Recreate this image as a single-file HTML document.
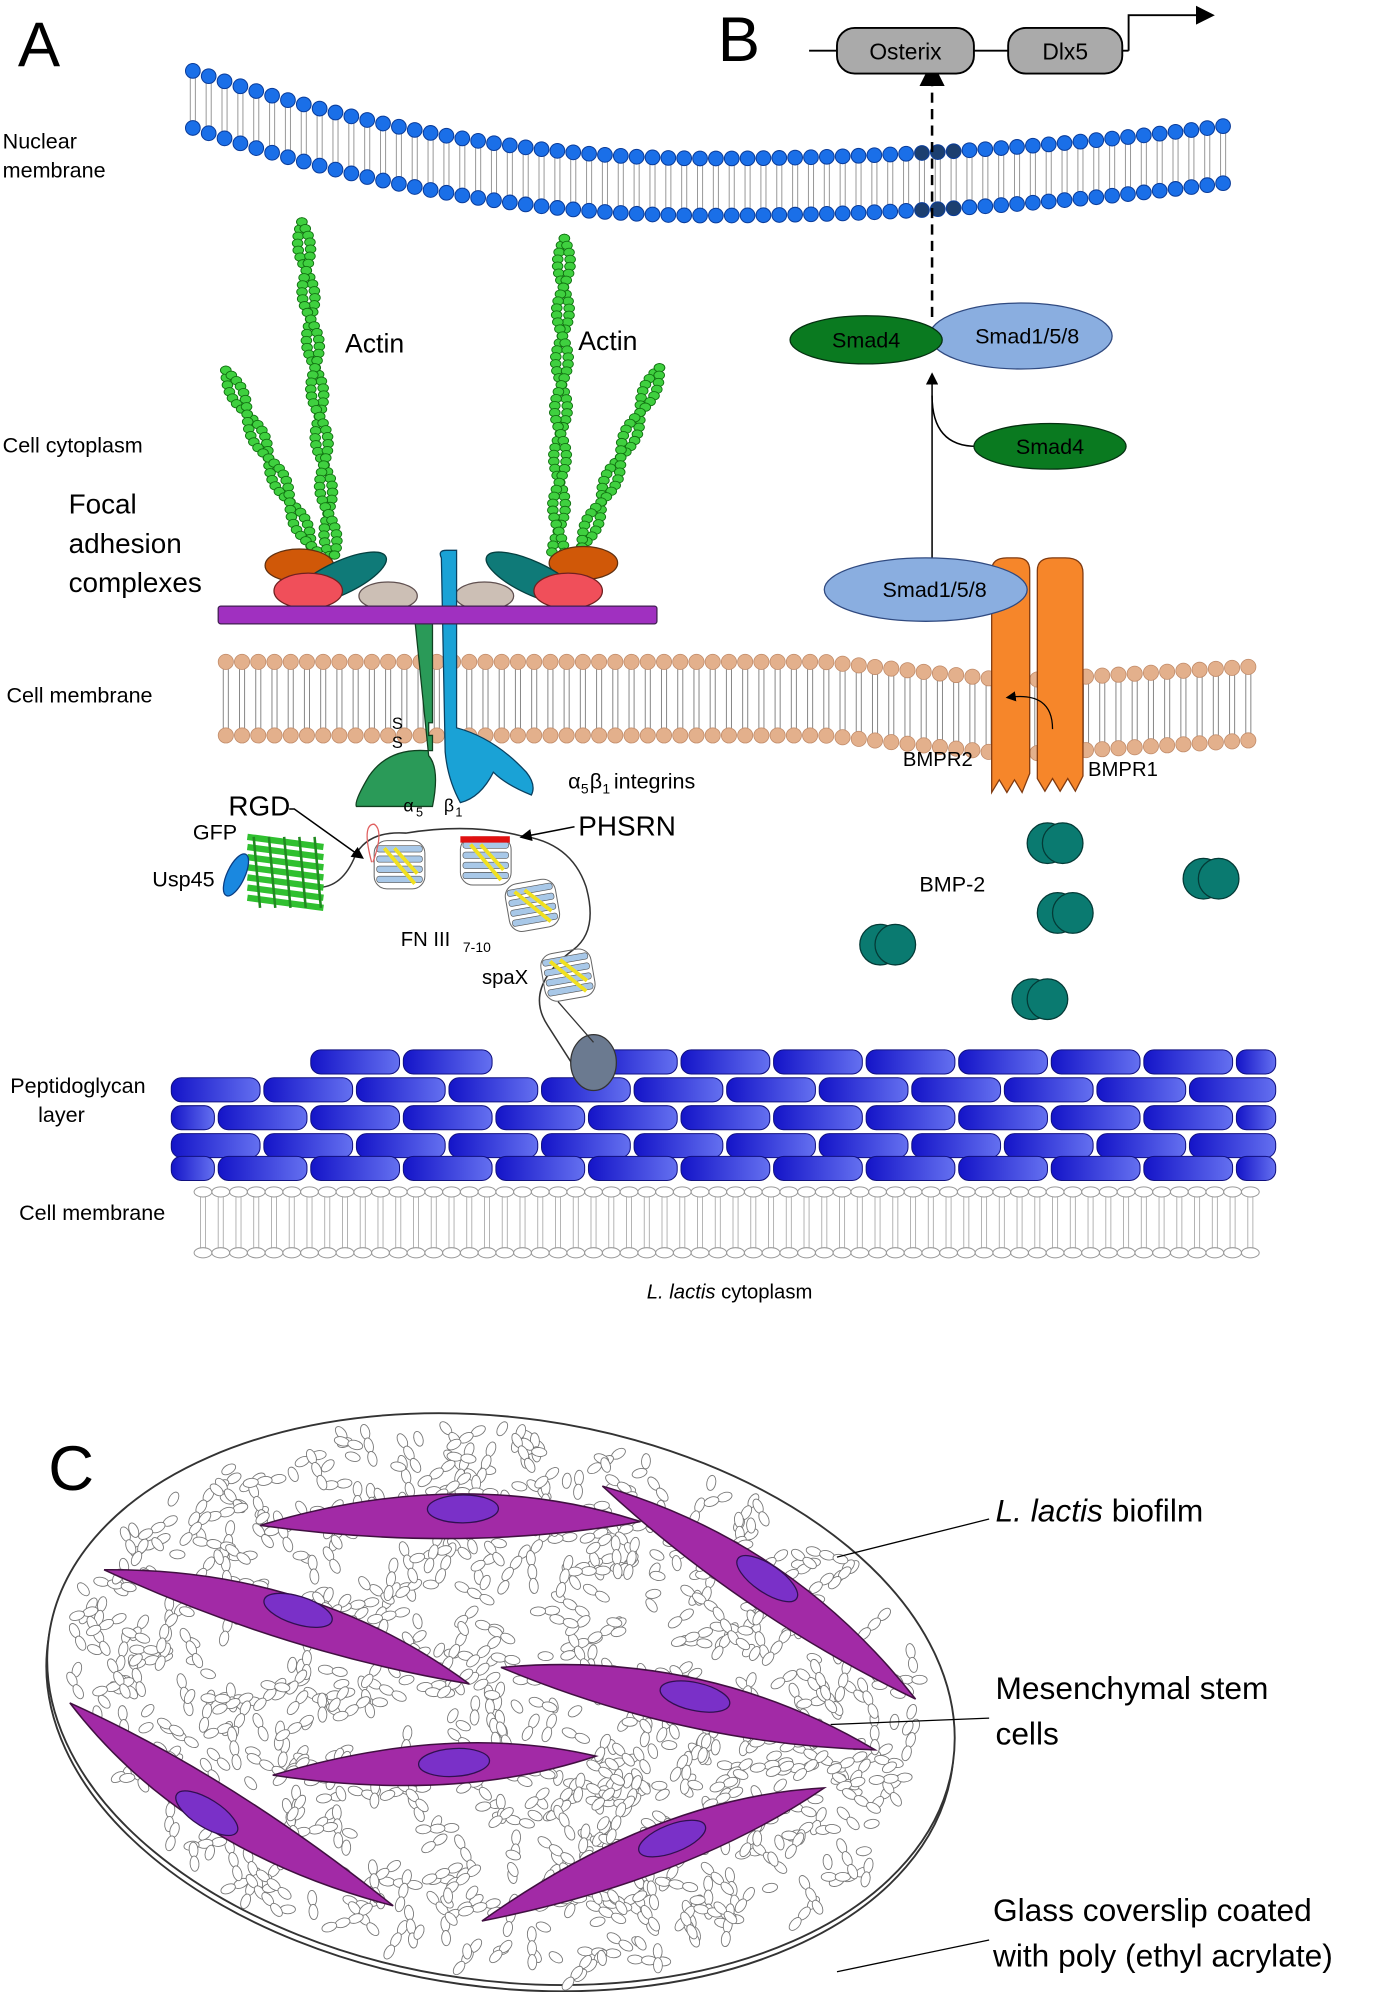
<!DOCTYPE html>
<html><head><meta charset="utf-8">
<style>
html,body{margin:0;padding:0;background:#fff;}
svg{display:block;font-family:"Liberation Sans",sans-serif;}
</style></head>
<body>
<svg id="s" width="1395" height="1992" viewBox="0 0 1100 1571" xmlns="http://www.w3.org/2000/svg">
<defs>
<linearGradient id="pg" x1="0" x2="1" y1="0" y2="0"><stop offset="0" stop-color="#1414c8"/><stop offset="1" stop-color="#6470f0"/></linearGradient>
<marker id="ah" markerWidth="10" markerHeight="10" refX="8" refY="5" orient="auto"><path d="M0,0 L10,5 L0,10 z" fill="#000"/></marker>
<marker id="ahs" markerWidth="8" markerHeight="8" refX="6" refY="4" orient="auto"><path d="M0,0 L8,4 L0,8 z" fill="#000"/></marker>
</defs>
<g id="bg"></g>
<g id="fg"></g>

<!-- Panel labels -->
<text x="14" y="52" font-size="50">A</text>
<text x="566" y="48" font-size="50">B</text>
<text x="38" y="1175" font-size="50">C</text>

<!-- Gene boxes -->
<line x1="638" y1="40" x2="890" y2="40" stroke="#000" stroke-width="1.5"/>
<polyline points="890,40 890,12 955,12" fill="none" stroke="#000" stroke-width="1.5" marker-end="url(#ah)"/>
<rect x="660" y="22" width="108" height="36" rx="14" fill="#aaa" stroke="#000" stroke-width="1.5"/>
<text x="714" y="47" font-size="18" text-anchor="middle">Osterix</text>
<rect x="795" y="22" width="90" height="36" rx="14" fill="#aaa" stroke="#000" stroke-width="1.5"/>
<text x="840" y="47" font-size="18" text-anchor="middle">Dlx5</text>

<text x="2" y="117" font-size="17">Nuclear</text>
<text x="2" y="140" font-size="17">membrane</text>
<text x="2" y="357" font-size="17">Cell cytoplasm</text>
<text x="54" y="405" font-size="22">Focal</text>
<text x="54" y="436" font-size="22">adhesion</text>
<text x="54" y="467" font-size="22">complexes</text>
<text x="5" y="554" font-size="17">Cell membrane</text>
<text x="272" y="278" font-size="21">Actin</text>
<text x="456" y="276" font-size="21">Actin</text>

<!-- Purple bar -->
<rect x="172" y="478" width="346" height="14" rx="2" fill="#a030c0" stroke="#402050"/>
</svg>

<script>
(function(){
var NS="http://www.w3.org/2000/svg";
var bg=document.getElementById("bg"), fg=document.getElementById("fg");
function el(p,t,a){var e=document.createElementNS(NS,t);for(var k in a)e.setAttribute(k,a[k]);p.appendChild(e);return e;}
function tx(p,x,y,s,str,o){var e=el(p,"text",Object.assign({x:x,y:y,"font-size":s},o||{}));e.textContent=str;return e;}
var seed=7;function rnd(){seed=(seed*16807)%2147483647;return seed/2147483647;}

// Nuclear membrane
function ntop(x){return x<560?125-4.15e-4*(x-560)*(x-560):125-1.56e-4*(x-560)*(x-560);}
for(var x=152;x<=975;x+=12.5){
  var t=ntop(x), b=t+45;
  el(bg,"line",{x1:x-2,y1:t,x2:x-2,y2:b,stroke:"#999","stroke-width":0.8});
  el(bg,"line",{x1:x+2,y1:t,x2:x+2,y2:b,stroke:"#999","stroke-width":0.8});
  var dark=Math.abs(x-735)<20;
  var c=dark?"#1c3f70":"#1a6fe8";
  el(bg,"circle",{cx:x,cy:t,r:5.8,fill:c,stroke:"#0a3c9a","stroke-width":0.8});
  el(bg,"circle",{cx:x,cy:b,r:5.8,fill:c,stroke:"#0a3c9a","stroke-width":0.8});
}
// Cell membrane tan
function ctop(x){if(x<650)return 522;if(x<800)return 522+(x-650)*0.1;return 537-(x-800)*0.06;}
for(var x=178;x<=990;x+=12.8){
  var t=ctop(x),b=t+58;
  el(bg,"line",{x1:x-2,y1:t,x2:x-2,y2:b,stroke:"#888","stroke-width":0.8});
  el(bg,"line",{x1:x+2,y1:t,x2:x+2,y2:b,stroke:"#888","stroke-width":0.8});
  el(bg,"circle",{cx:x,cy:t,r:6,fill:"#e3b08c",stroke:"#c08a68","stroke-width":0.6});
  el(bg,"circle",{cx:x,cy:b,r:6,fill:"#e3b08c",stroke:"#c08a68","stroke-width":0.6});
}
// L. lactis membrane
for(var x=160;x<=995;x+=14){
  el(bg,"line",{x1:x-2,y1:942,x2:x-2,y2:986,stroke:"#aaa","stroke-width":0.7});
  el(bg,"line",{x1:x+2,y1:942,x2:x+2,y2:986,stroke:"#aaa","stroke-width":0.7});
  el(bg,"ellipse",{cx:x,cy:940,rx:7,ry:4,fill:"#fff",stroke:"#999","stroke-width":0.8});
  el(bg,"ellipse",{cx:x,cy:988,rx:7,ry:4,fill:"#fff",stroke:"#999","stroke-width":0.8});
}
// Peptidoglycan
var rows=[[828,175,1000],[852,135,1008],[876,135,1008],[900,135,1008],[912,135,1008]];
var ys=[830,852,874,896,914];
for(var r=0;r<5;r++){
  var off=(r%2)?0:36;
  for(var x=135-off;x<1005;x+=73){
    var x0=Math.max(x,135), x1=Math.min(x+70,1006);
    if(r==0&&(x0<175||(x0>390&&x0<425)))continue;
    if(x1-x0<15)continue;
    el(bg,"rect",{x:x0,y:ys[r]-2,width:x1-x0,height:19,rx:8,fill:"url(#pg)",stroke:"#101080","stroke-width":0.8});
  }
}
// Actin chains
function actin(x0,y0,x1,y1){
  var n=Math.hypot(x1-x0,y1-y0)/5.5, dx=(x1-x0), dy=(y1-y0), L=Math.hypot(dx,dy), px=-dy/L, py=dx/L;
  for(var s=0;s<2;s++)for(var i=0;i<=n;i++){
    var f=i/n, w=5*Math.sin(i*0.45+s*Math.PI);
    el(fg,"ellipse",{cx:x0+dx*f+px*w,cy:y0+dy*f+py*w,rx:4.2,ry:3.3,fill:"#3fd03f",stroke:"#107010","stroke-width":0.7});
  }
}
actin(178,292,250,440);actin(238,175,262,440);actin(445,188,440,440);actin(520,290,455,440);

// Focal adhesion blobs
el(fg,"ellipse",{cx:236,cy:446,rx:27,ry:13,fill:"#d05808",stroke:"#603010"});
el(fg,"ellipse",{cx:268,cy:456,rx:40,ry:13,fill:"#0f7a78",stroke:"#054040",transform:"rotate(-25 268 456)"});
el(fg,"ellipse",{cx:243,cy:466,rx:27,ry:14,fill:"#f04f5a",stroke:"#702020"});
el(fg,"ellipse",{cx:306,cy:470,rx:23,ry:11,fill:"#ccbfb5",stroke:"#605050"});
el(fg,"ellipse",{cx:460,cy:444,rx:27,ry:13,fill:"#d05808",stroke:"#603010"});
el(fg,"ellipse",{cx:420,cy:456,rx:40,ry:13,fill:"#0f7a78",stroke:"#054040",transform:"rotate(25 420 456)"});
el(fg,"ellipse",{cx:448,cy:466,rx:27,ry:14,fill:"#f04f5a",stroke:"#702020"});
el(fg,"ellipse",{cx:382,cy:470,rx:23,ry:11,fill:"#ccbfb5",stroke:"#605050"});

// Integrins
el(fg,"path",{d:"M326,478 h15 v92 h-3 v10 h3 v12 l-5 0 q-30,-2 -45,20 q-12,20 -10,24 h60 q6,-30 -3,-40 z",fill:"#2a9a58",stroke:"#104020"});
el(fg,"path",{d:"M348,440 q-3,-6 4,-6 h8 v140 q30,8 55,35 q8,10 4,18 q-20,-8 -30,-18 q-10,20 -26,24 q-10,-18 -12,-40 z",fill:"#1aa2d6",stroke:"#0a4060"});
tx(fg,309,575,13,"S");tx(fg,309,590,13,"S");
tx(fg,318,640,14,"α",{});tx(fg,328,644,10,"5");
tx(fg,350,640,14,"β");tx(fg,359,644,10,"1");
tx(fg,448,622,17,"α");tx(fg,458,626,11,"5");tx(fg,465,622,17,"β");tx(fg,475,626,11,"1");tx(fg,484,622,17," integrins");

// Fibronectin chain
el(fg,"path",{d:"M250,700 q20,0 30,-25 q10,-20 40,-18 q50,-8 90,2 q40,5 52,40 q10,35 -10,50 q-40,30 -20,60 L455,845",fill:"none",stroke:"#333","stroke-width":1.2});
function fn(cx,cy,ang){var g=el(fg,"g",{transform:"rotate("+ang+" "+cx+" "+cy+")"});
  for(var i=0;i<4;i++){el(g,"rect",{x:cx-18,y:cy-16+i*8,width:36,height:5,rx:2,fill:"#a8c8e8",stroke:"#555","stroke-width":0.5});}
  el(g,"line",{x1:cx-12,y1:cy-14,x2:cx+12,y2:cy+14,stroke:"#f0e020","stroke-width":3});
  el(g,"line",{x1:cx-4,y1:cy-14,x2:cx+14,y2:cy+6,stroke:"#f0e020","stroke-width":3});
  el(g,"rect",{x:cx-20,y:cy-20,width:40,height:38,rx:10,fill:"none",stroke:"#666","stroke-width":0.8});}
fn(315,683,0);fn(383,680,0);fn(420,715,-10);fn(448,770,-10);
el(fg,"line",{x1:363,y1:662,x2:402,y2:662,stroke:"#e01010","stroke-width":5});
el(fg,"path",{d:"M293,680 q-8,-30 2,-30 q8,5 -1,30",fill:"none",stroke:"#e06060"});
// GFP
for(var i=0;i<7;i++)el(fg,"line",{x1:195,y1:660+i*8,x2:255,y2:668+i*8,stroke:"#30c030","stroke-width":5});
for(var i=0;i<5;i++)el(fg,"line",{x1:200+i*12,y1:660,x2:205+i*12,y2:716,stroke:"#208a20","stroke-width":2});
el(fg,"ellipse",{cx:186,cy:690,rx:7,ry:18,fill:"#1a88e0",stroke:"#0a3c80",transform:"rotate(25 186 690)"});
el(fg,"ellipse",{cx:468,cy:838,rx:18,ry:22,fill:"#6b7a90",stroke:"#333"});
el(fg,"line",{x1:440,y1:790,x2:468,y2:822,stroke:"#333"});

tx(fg,152,662,17,"GFP");tx(fg,120,699,17,"Usp45");
tx(fg,152,668,0,"");
tx(fg,316,746,16,"FN III");tx(fg,365,751,11,"7-10");
tx(fg,380,776,16,"spaX");
tx(fg,180,643,22,"RGD");
el(fg,"polyline",{points:"228,638 232,638 285,676",fill:"none",stroke:"#000","stroke-width":1.2,"marker-end":"url(#ahs)"});
tx(fg,456,659,22,"PHSRN");
el(fg,"line",{x1:453,y1:652,x2:412,y2:660,stroke:"#000","stroke-width":1.2,"marker-end":"url(#ahs)"});

tx(fg,8,862,17,"Peptidoglycan");tx(fg,30,885,17,"layer");
tx(fg,15,962,17,"Cell membrane");
var lt=tx(fg,510,1024,16,"");var ts=el(lt,"tspan",{"font-style":"italic"});ts.textContent="L. lactis";var t2=el(lt,"tspan",{});t2.textContent=" cytoplasm";

// B pathway
el(fg,"line",{x1:735,y1:250,x2:735,y2:52,stroke:"#000","stroke-width":2,"stroke-dasharray":"8,5","marker-end":"url(#ah)"});
el(fg,"line",{x1:735,y1:445,x2:735,y2:296,stroke:"#000","stroke-width":1.2,"marker-end":"url(#ahs)"});
el(fg,"path",{d:"M770,352 q-35,0 -35,-40",fill:"none",stroke:"#000","stroke-width":1.2});
el(fg,"ellipse",{cx:805,cy:265,rx:72,ry:26,fill:"#8aaee0",stroke:"#304a80"});
el(fg,"ellipse",{cx:683,cy:268,rx:60,ry:19,fill:"#0a7a20",stroke:"#053010"});
tx(fg,683,274,17,"Smad4",{"text-anchor":"middle"});
tx(fg,810,271,17,"Smad1/5/8",{"text-anchor":"middle"});
el(fg,"ellipse",{cx:828,cy:352,rx:60,ry:18,fill:"#0a7a20",stroke:"#053010"});
tx(fg,828,358,17,"Smad4",{"text-anchor":"middle"});
// BMPR
el(fg,"path",{d:"M782,450 q0,-10 12,-10 h8 q10,0 10,10 v160 l-6,15 -6,-10 -6,10 -6,-10 -6,10 z",fill:"#f6862a",stroke:"#803a10"});
el(fg,"path",{d:"M818,450 q0,-10 12,-10 h10 q14,0 14,12 v160 l-6,12 -6,-10 -6,10 -6,-10 -6,10 -6,-10 z",fill:"#f6862a",stroke:"#803a10"});
el(fg,"path",{d:"M830,575 q0,-30 -35,-25",fill:"none",stroke:"#000","marker-end":"url(#ahs)"});
el(fg,"ellipse",{cx:730,cy:465,rx:80,ry:25,fill:"#8aaee0",stroke:"#304a80"});
tx(fg,737,471,17,"Smad1/5/8",{"text-anchor":"middle"});
tx(fg,712,604,16,"BMPR2");tx(fg,858,612,16,"BMPR1");
tx(fg,725,703,17,"BMP-2");
[[700,745],[832,665],[840,720],[955,693],[820,788]].forEach(function(p){
  el(fg,"circle",{cx:p[0]-6,cy:p[1],r:16,fill:"#0a7a70",stroke:"#043a36"});
  el(fg,"circle",{cx:p[0]+6,cy:p[1],r:16,fill:"#0a7a70",stroke:"#043a36"});
});

// Panel C
var cx=395,cy=1340,rx=360,ry=222;
el(bg,"ellipse",{cx:cx,cy:cy+5,rx:rx,ry:ry,fill:"#fff",stroke:"#333","stroke-width":1.5,transform:"rotate(8 395 1340)"});
el(bg,"ellipse",{cx:cx,cy:cy,rx:rx,ry:ry,fill:"#fff",stroke:"#333","stroke-width":1.5,transform:"rotate(8 395 1340)"});
var a8=8*Math.PI/180;
for(var i=0;i<1100;i++){
  var u=rnd()*2-1,v=rnd()*2-1; if(u*u+v*v>0.9)continue;
  var X=u*rx,Y=v*ry; var px=cx+X*Math.cos(a8)-Y*Math.sin(a8), py=cy+X*Math.sin(a8)+Y*Math.cos(a8);
  var ang=rnd()*180;
  var g=el(bg,"g",{transform:"translate("+px.toFixed(1)+" "+py.toFixed(1)+") rotate("+ang.toFixed(0)+")"});
  var n=1+Math.floor(rnd()*3);
  for(var k=0;k<n;k++)el(g,"ellipse",{cx:k*11-5,cy:0,rx:6,ry:3.5,fill:"#fff",stroke:"#777","stroke-width":0.7});
}
var cells=[[205,1203,505,1200,22,365,1190],[475,1172,722,1340,22,605,1245],[82,1238,370,1328,22,235,1270],[395,1315,690,1380,24,548,1338],[215,1400,470,1385,20,358,1390],[55,1343,310,1503,22,163,1430],[380,1515,650,1410,22,530,1450]];
cells.forEach(function(c){
  var dx=c[2]-c[0],dy=c[3]-c[1],L=Math.hypot(dx,dy),px=-dy/L,py=dx/L;
  var mx=c[5],my=c[6],w=c[4]*1.6;
  var d="M"+c[0]+","+c[1]+" Q"+(mx+px*w)+","+(my+py*w)+" "+c[2]+","+c[3]+" Q"+(mx-px*w)+","+(my-py*w)+" "+c[0]+","+c[1]+"z";
  el(fg,"path",{d:d,fill:"#a22aa6",stroke:"#401040","stroke-width":1.2});
  var ang=Math.atan2(dy,dx)*180/Math.PI;
  el(fg,"ellipse",{cx:mx,cy:my,rx:28,ry:11,fill:"#7a30c8",stroke:"#301050",transform:"rotate("+ang+" "+mx+" "+my+")"});
});
el(fg,"line",{x1:660,y1:1228,x2:780,y2:1198,stroke:"#000"});
el(fg,"line",{x1:655,y1:1360,x2:780,y2:1355,stroke:"#000"});
el(fg,"line",{x1:660,y1:1555,x2:780,y2:1530,stroke:"#000"});
var t=tx(fg,785,1200,25,"");var a=el(t,"tspan",{"font-style":"italic"});a.textContent="L. lactis";var b=el(t,"tspan",{});b.textContent=" biofilm";
tx(fg,785,1340,25,"Mesenchymal stem");tx(fg,785,1376,25,"cells");
tx(fg,783,1515,25,"Glass coverslip coated");tx(fg,783,1551,25,"with poly (ethyl acrylate)");
})();
</script>
</body></html>
